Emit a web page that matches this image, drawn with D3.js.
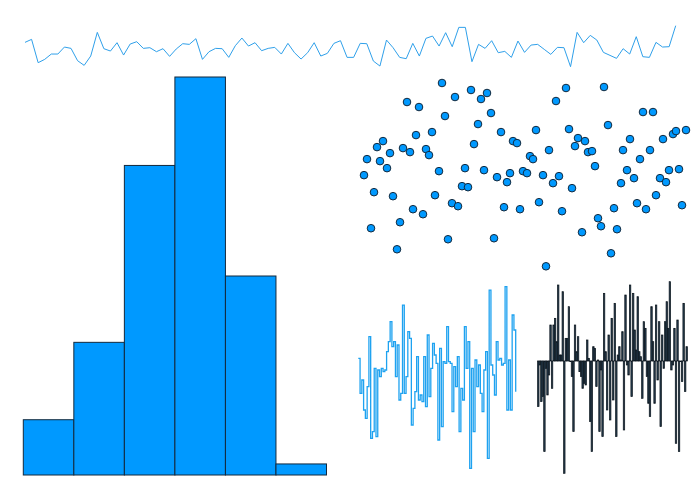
<!DOCTYPE html>
<html>
<head>
<meta charset="utf-8">
<script src="https://cdn.jsdelivr.net/npm/d3@7/dist/d3.min.js"></script>
<style>
  html, body { margin: 0; padding: 0; background: #fff; }
  svg { display: block; }
</style>
</head>
<body>
<svg id="chart" width="700" height="500"></svg>
<script>
// ---------- DATA ----------
// Top sparkline (100 samples)
const sparkValues = [
  7.3, 8.2, 1.2, 2.2, 3.8, 3.8, 5.9, 5.5, 1.8, 0.4,
  3.2, 10.3, 5.4, 4.7, 7.2, 3.5, 6.8, 7.5, 5.5, 5.7,
  4.5, 5.4, 3.1, 5.3, 6.9, 6.7, 8.4, 2.2, 4.5, 5.5,
  5.4, 2.8, 6.3, 8.6, 6.2, 7.2, 4.8, 5.5, 5.8, 3.8,
  7.0, 4.2, 2.3, 4.2, 7.2, 3.2, 4.0, 7.0, 7.8, 2.8,
  2.8, 7.0, 6.9, 1.7, 0.2, 8.0, 5.7, 2.8, 2.4, 7.0,
  3.2, 8.5, 9.2, 6.2, 10.2, 6.0, 11.8, 11.8, 1.5, 6.7,
  5.5, 7.8, 4.2, 4.6, 2.8, 7.7, 4.3, 6.5, 6.7, 5.2,
  3.7, 5.8, 5.7, 0.0, 10.3, 7.2, 9.4, 8.0, 4.3, 3.4,
  2.5, 5.4, 3.8, 9.0, 3.0, 2.8, 7.3, 5.9, 6.0, 12.3
];

// Histogram bins
const histEdges = [-3, -2, -1, 0, 1, 2, 3];
const histCounts = [5, 12, 28, 36, 18, 1];

// Scatter (100 points)
const scatterX = [
  78, 107, 123, 117, 91, 43, 55, 81, 127, 114,
  202, 192, 240, 279, 289, 244, 137, 172, 205, 68,
  52, 19, 13, 26, 3, 16, 23, 39, 46, 62,
  65, 110, 149, 153, 214, 221, 211, 224, 228, 185,
  266, 259, 286, 276, 299, 309, 312, 322, 166, 169,
  231, 263, 305, 315, 0, 75, 101, 120, 146, 159,
  163, 179, 195, 133, 143, 189, 270, 296, 302, 257,
  208, 98, 104, 10, 29, 71, 49, 59, 88, 94,
  140, 156, 175, 198, 292, 273, 282, 318, 250, 234,
  237, 253, 218, 7, 36, 33, 84, 130, 247, 182
];
const scatterY = [
  183, 176, 173, 167, 169, 164, 159, 150, 153, 142,
  178, 165, 179, 154, 154, 141, 134, 136, 137, 134,
  131, 125, 119, 113, 107, 105, 98, 118, 114, 117,
  111, 122, 125, 123, 128, 125, 120, 114, 115, 116,
  127, 116, 116, 107, 127, 132, 135, 136, 110, 107,
  100, 96, 96, 97, 91, 95, 98, 96, 93, 95,
  93, 91, 90, 89, 84, 83, 88, 88, 84, 83,
  78, 80, 79, 74, 70, 71, 57, 52, 63, 60,
  59, 57, 64, 55, 71, 63, 57, 61, 58, 48,
  40, 37, 34, 38, 44, 17, 27, 28, 13, 0
];

// Step line (bottom middle)
const stepValues = [
  6.5, -4.0, 0.0, -9.0, -11.5, -2.0, 13.0, -17.5, -15.5, 3.5,
  -17.0, 3.0, 1.0, 3.5, 2.5, 3.0, 8.5, 11.5, 17.5, 10.0,
  11.5, 1.0, 10.5, -6.0, -4.0, 22.5, -4.0, 1.0, 14.5, 12.5,
  -13.5, -8.5, -3.5, 7.0, -6.0, -4.5, -6.5, 7.0, -8.0, 13.5,
  -5.0, 3.5, 11.0, 7.5, 5.0, -18.0, 9.5, -14.0, 5.5, 5.0,
  16.0, 5.5, 5.0, -9.5, 4.0, -2.0, 7.0, -15.5, -2.5, -6.0,
  16.0, 3.5, 11.5, -26.5, 3.5, -15.5, 6.0, -2.0, 4.5, -4.0,
  -9.5, 3.0, 8.5, -23.5, 27.0, 4.5, 1.5, -4.5, 11.5, 6.0,
  6.5, 4.5, 5.0, 28.0, -9.0, 6.0, -9.0, 19.5, 15.0, -3.5
];

// Bars (bottom right)
const barValues = [
  -137, -12, -122, -107, -272, -22, -102, -42, 108, -82,
  108, 128, 58, 228, 18, 18, 208, -337, 68, 68,
  163, -2, -47, -212, 108, 28, 73, -32, -47, -82,
  -67, -72, 63, 8, -182, -272, 43, 38, -77, 3,
  -212, -27, -227, 203, 28, -147, 78, -177, 128, -117,
  173, -227, 18, 43, 3, 88, -207, 198, -12, -42,
  228, -107, 203, 93, 33, 193, 28, 13, -112, 118,
  98, -47, -127, -167, 163, 58, -127, 168, -57, 118,
  -197, 78, -22, 118, 178, 98, 238, -27, -12, 98,
  -247, 123, -272, -2, -62, 173, -92, 43
];

// ---------- DRAW ----------
const svg = d3.select('#chart');
const blue = '#0099ff';
const outline = '#13293d';

// Sparkline
const sx = d3.scaleLinear().domain([0, sparkValues.length - 1]).range([25, 675.7]);
const sy = d3.scaleLinear().domain([0, 12.3]).range([66.7, 25.7]);
svg.append('path')
  .datum(sparkValues)
  .attr('fill', 'none')
  .attr('stroke', '#2fa0ea')
  .attr('stroke-width', 1)
  .attr('d', d3.line().x((d, i) => sx(i)).y(d => sy(d)));

// Histogram
const hx = d3.scaleLinear().domain([-3, 3]).range([23.3, 326.5]);
const hy = d3.scaleLinear().domain([0, 36]).range([475, 77]);
svg.append('g').selectAll('rect')
  .data(histCounts)
  .join('rect')
  .attr('x', (d, i) => hx(histEdges[i]))
  .attr('width', (d, i) => hx(histEdges[i + 1]) - hx(histEdges[i]))
  .attr('y', d => hy(d))
  .attr('height', d => hy(0) - hy(d))
  .attr('fill', blue)
  .attr('stroke', outline)
  .attr('stroke-width', 1);

// Scatter
const px = d3.scaleLinear().domain([0, 322]).range([364, 686]);
const py = d3.scaleLinear().domain([0, 183]).range([266.3, 83]);
svg.append('g').selectAll('circle')
  .data(scatterX)
  .join('circle')
  .attr('cx', d => px(d))
  .attr('cy', (d, i) => py(scatterY[i]))
  .attr('r', 3.8)
  .attr('fill', blue)
  .attr('stroke', outline)
  .attr('stroke-width', 1);

// Step line
const tx = d3.scaleLinear().domain([0, stepValues.length - 1]).range([358.3, 515.7]);
const ty = d3.scaleLinear().domain([-26.5, 28]).range([468.3, 286.7]);
svg.append('path')
  .datum(stepValues)
  .attr('fill', 'none')
  .attr('stroke', '#1ea2f0')
  .attr('stroke-width', 1.3)
  .attr('d', d3.line().curve(d3.curveStepAfter).x((d, i) => tx(i)).y(d => ty(d)));

// Bars
const bx = d3.scaleBand().domain(d3.range(barValues.length)).range([537.5, 687.5]).padding(0.05);
const by = d3.scaleLinear().domain([-337, 243]).range([473.3, 280]);
svg.append('g').selectAll('rect')
  .data(barValues)
  .join('rect')
  .attr('x', (d, i) => bx(i))
  .attr('width', bx.bandwidth())
  .attr('y', d => by(Math.max(0, d)))
  .attr('height', d => Math.abs(by(d) - by(0)))
  .attr('fill', '#243a4c')
  .attr('stroke', '#0b141c')
  .attr('stroke-width', 0.7);
</script>
</body>
</html>
